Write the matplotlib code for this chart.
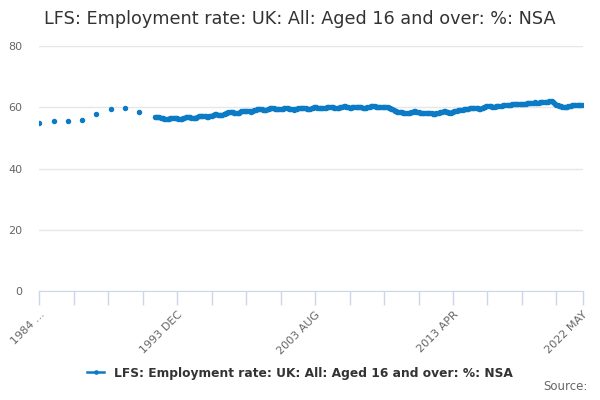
import numpy as np
import pandas as pd
import matplotlib
matplotlib.use("Agg")
import matplotlib.pyplot as plt

# LFS spring survey years (one value per year)
annual_years = [1984, 1985, 1986, 1987, 1988, 1989, 1990, 1991]
annual_rate = [54.9, 55.4, 55.4, 56.0, 57.8, 59.3, 59.7, 58.4]

# monthly (rolling 3 month) values, 1992 MAY .. 2022 MAY
monthly_start = "1992-05"
monthly_rate = [
    56.9, 56.9, 56.9, 56.9, 56.7, 56.6, 56.5, 56.4,                    # 1992
    56.3, 56.2, 56.1, 56.2, 56.3, 56.4, 56.5, 56.6, 56.6, 56.6, 56.6, 56.5,  # 1993
    56.3, 56.2, 56.2, 56.3, 56.4, 56.6, 56.7, 56.8, 56.8, 56.7, 56.7, 56.6,  # 1994
    56.5, 56.4, 56.5, 56.6, 56.8, 57.0, 57.1, 57.2, 57.2, 57.1, 57.0, 57.0,  # 1995
    56.9, 56.9, 57.0, 57.1, 57.3, 57.5, 57.6, 57.7, 57.7, 57.6, 57.6, 57.6,  # 1996
    57.6, 57.6, 57.7, 57.8, 58.0, 58.2, 58.4, 58.5, 58.5, 58.4, 58.4, 58.3,  # 1997
    58.2, 58.1, 58.2, 58.3, 58.5, 58.7, 58.8, 58.9, 58.9, 58.8, 58.8, 58.7,  # 1998
    58.7, 58.6, 58.7, 58.9, 59.1, 59.2, 59.3, 59.4, 59.4, 59.3, 59.3, 59.2,  # 1999
    59.2, 59.1, 59.2, 59.4, 59.6, 59.7, 59.8, 59.8, 59.8, 59.6, 59.5, 59.4,  # 2000
    59.3, 59.3, 59.4, 59.5, 59.6, 59.7, 59.8, 59.8, 59.7, 59.6, 59.5, 59.4,  # 2001
    59.3, 59.2, 59.3, 59.4, 59.6, 59.7, 59.8, 59.9, 59.9, 59.8, 59.7, 59.7,  # 2002
    59.6, 59.5, 59.5, 59.6, 59.8, 59.9, 60.0, 60.0, 60.0, 59.9, 59.9, 59.8,  # 2003
    59.7, 59.7, 59.7, 59.8, 59.9, 60.0, 60.1, 60.1, 60.1, 60.1, 60.0, 59.9,  # 2004
    59.8, 59.8, 59.8, 59.9, 60.0, 60.1, 60.2, 60.3, 60.3, 60.2, 60.1, 60.0,  # 2005
    59.9, 59.9, 60.0, 60.0, 60.1, 60.2, 60.2, 60.2, 60.2, 60.1, 60.0, 59.9,  # 2006
    59.8, 59.8, 59.9, 60.0, 60.1, 60.2, 60.3, 60.3, 60.3, 60.3, 60.2, 60.2,  # 2007
    60.1, 60.1, 60.1, 60.2, 60.2, 60.2, 60.2, 60.1, 60.0, 59.9, 59.7, 59.5,  # 2008
    59.3, 59.1, 58.9, 58.8, 58.6, 58.5, 58.5, 58.5, 58.4, 58.3, 58.2, 58.1,  # 2009
    58.0, 58.0, 58.1, 58.3, 58.5, 58.6, 58.7, 58.7, 58.6, 58.5, 58.4, 58.3,  # 2010
    58.3, 58.2, 58.2, 58.2, 58.3, 58.3, 58.3, 58.2, 58.1, 58.0, 57.9, 57.8,  # 2011
    57.9, 58.0, 58.1, 58.3, 58.4, 58.5, 58.6, 58.7, 58.7, 58.6, 58.5, 58.4,  # 2012
    58.3, 58.3, 58.4, 58.5, 58.7, 58.8, 58.9, 59.0, 59.0, 59.0, 59.1, 59.2,  # 2013
    59.3, 59.3, 59.4, 59.5, 59.6, 59.7, 59.8, 59.8, 59.8, 59.8, 59.8, 59.8,  # 2014
    59.7, 59.6, 59.6, 59.8, 59.9, 60.1, 60.2, 60.3, 60.3, 60.3, 60.3, 60.3,  # 2015
    60.2, 60.2, 60.2, 60.3, 60.4, 60.5, 60.5, 60.5, 60.5, 60.6, 60.6, 60.7,  # 2016
    60.7, 60.8, 60.8, 60.8, 60.9, 61.0, 61.0, 61.1, 61.1, 61.1, 61.1, 61.1,  # 2017
    61.0, 61.0, 61.0, 61.1, 61.2, 61.3, 61.3, 61.3, 61.3, 61.4, 61.5, 61.5,  # 2018
    61.6, 61.5, 61.5, 61.5, 61.6, 61.7, 61.7, 61.7, 61.7, 61.8, 61.8, 61.8,  # 2019
    61.9, 61.9, 61.9, 61.6, 61.3, 61.0, 60.8, 60.6, 60.5, 60.4, 60.3, 60.2,  # 2020
    60.1, 60.0, 60.0, 60.1, 60.3, 60.4, 60.5, 60.6, 60.6, 60.6, 60.7, 60.8,  # 2021
    60.8, 60.8, 60.8, 60.9, 60.9,                                      # 2022
]

tick_labels = ["1984 ...", "1993 DEC", "2003 AUG", "2013 APR", "2022 MAY"]
series_name = "LFS: Employment rate: UK: All: Aged 16 and over: %: NSA"

blue = "#0a7bc4"
grey = "#666666"

# x is counted in months from the first (1984) observation
origin = pd.Period("1984-04", freq="M")
annual_x = [(pd.Period(f"{y}-04", freq="M") - origin).n for y in annual_years]
months = pd.period_range(monthly_start, periods=len(monthly_rate), freq="M")
monthly_x = [(m - origin).n for m in months]
last_x = monthly_x[-1]

fig = plt.figure(figsize=(6, 4), dpi=100)
ax = fig.add_axes([0.0655, 0.272, 0.9055, 0.613])

ax.plot(annual_x, annual_rate, linestyle="none", marker="o", ms=2.9,
        color=blue, zorder=3)
ax.plot(monthly_x, monthly_rate, color=blue, lw=1.8, marker="o", ms=2.9,
        zorder=3, label=series_name)

ax.set_xlim(0, last_x)
ax.set_ylim(0, 80)
ax.set_yticks([0, 20, 40, 60, 80])
ax.grid(axis="y", color="#e6e6e6", lw=1)
ax.set_axisbelow(True)

# ticks every 29 months, labels every fourth tick plus the last point
ticks = list(range(0, last_x, 29)) + [last_x]
ax.set_xticks(ticks)
labels = []
lab_iter = iter(tick_labels)
for i, t in enumerate(ticks):
    if i % 4 == 0 or t == last_x:
        labels.append(next(lab_iter))
    else:
        labels.append("")
ax.set_xticklabels(labels, rotation=45, ha="right", rotation_mode="anchor",
                   fontsize=8, color=grey)
ax.tick_params(axis="x", length=10, color="#ccd6eb", width=1, pad=3)
ax.tick_params(axis="y", length=0, labelsize=8, labelcolor=grey, pad=12)

for s in ["top", "right", "left"]:
    ax.spines[s].set_visible(False)
ax.spines["bottom"].set_color("#ccd6eb")

fig.suptitle("LFS: Employment rate: UK: All: Aged 16 and over: %: NSA",
             x=0.5, y=0.975, fontsize=12.7, color="#333333")

fig.legend(loc="center", bbox_to_anchor=(0.5, 0.067), frameon=False,
           prop={"size": 8.8, "weight": "bold"}, labelcolor="#333333",
           handlelength=1.4, markerscale=0.8)
fig.text(0.98, 0.025, "Source:", ha="right", fontsize=8.5, color=grey)

fig.savefig("out.png", dpi=100)
